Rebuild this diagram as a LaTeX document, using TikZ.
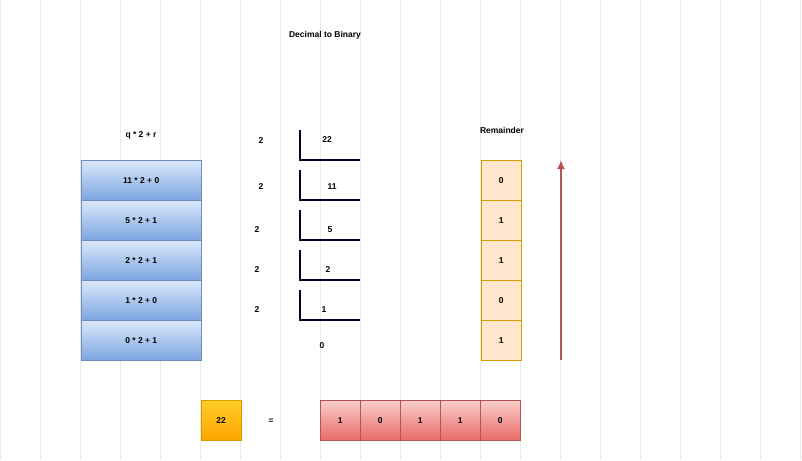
\documentclass[tikz,border=0pt]{standalone}
\usepackage{fontspec}
\usetikzlibrary{arrows.meta}
\setmainfont{Liberation Sans}
\definecolor{bluetop}{HTML}{DAE8FC}\definecolor{bluebot}{HTML}{7EA6E0}\definecolor{blueline}{HTML}{6C8EBF}
\definecolor{orfill}{HTML}{FFE6CC}\definecolor{orline}{HTML}{D79B00}
\definecolor{ytop}{HTML}{FFCD28}\definecolor{ybot}{HTML}{FFA500}
\definecolor{rtop}{HTML}{F8CECC}\definecolor{rbot}{HTML}{EA6B66}\definecolor{rline}{HTML}{B85450}
\definecolor{gridc}{HTML}{EBEBEB}\definecolor{ink}{HTML}{000033}
\begin{document}
\begin{tikzpicture}[x=1pt,y=-1pt,font=\fontsize{8.5}{10}\selectfont\bfseries,
  eq/.style={draw=blueline,top color=bluetop,bottom color=bluebot,minimum width=120pt,minimum height=40pt,anchor=north west,inner sep=0pt},
  rem/.style={draw=orline,fill=orfill,minimum width=40pt,minimum height=40pt,anchor=north west,inner sep=0pt},
  bit/.style={draw=rline,top color=rtop,bottom color=rbot,minimum width=40pt,minimum height=40pt,anchor=north west,inner sep=0pt},
  lbl/.style={inner sep=0pt},
  brk/.style={draw=ink,line width=1.5pt}]
\fill[white] (0,0) rectangle (802,460);
\useasboundingbox (0,0) rectangle (802,460);
\draw[gridc,step=40] (0,0) grid (802,460);
\node[lbl] (title) at (325,35) {Decimal to Binary};
\node[lbl] (qr) at (141,135) {q * 2 + r};
\node[lbl] (remt) at (502,130) {Remainder};
\foreach \t [count=\i from 0] in {11 * 2 + 0,5 * 2 + 1,2 * 2 + 1,1 * 2 + 0,0 * 2 + 1}
  \node[eq] (e\i) at (81,160+40*\i) {\t};
\foreach \t [count=\i from 0] in {0,1,1,0,1}
  \node[rem] (r\i) at (481,160+40*\i) {\t};
\coordinate (a1) at (561,360); \coordinate (a2) at (561,160);
\draw[rline,line width=2.5pt,-{Latex[length=9pt,width=8pt]}] (a1) -- (a2);
\foreach \y in {130,170,210,250,290}{
  \draw[brk] (300,\y) -- (300,\y+30) -- (360,\y+30);}
\foreach \x/\y in {261/141,261/187,257/230,257/270,257/310}
  \node[lbl] at (\x,\y) {2};
\foreach \x/\y/\t in {327/140/22,332/187/11,330/230/5,328/270/2,324/310/1,322/346/0}
  \node[lbl] at (\x,\y) {\t};
\node[draw=orline,top color=ytop,bottom color=ybot,minimum width=40pt,minimum height=40pt,anchor=north west,inner sep=0pt] (dec) at (201,400) {22};
\node[lbl] (eqs) at (271,421) {=};
\foreach \t [count=\i from 0] in {1,0,1,1,0}
  \node[bit] (b\i) at (320+40*\i,400) {\t};
\end{tikzpicture}
\end{document}
